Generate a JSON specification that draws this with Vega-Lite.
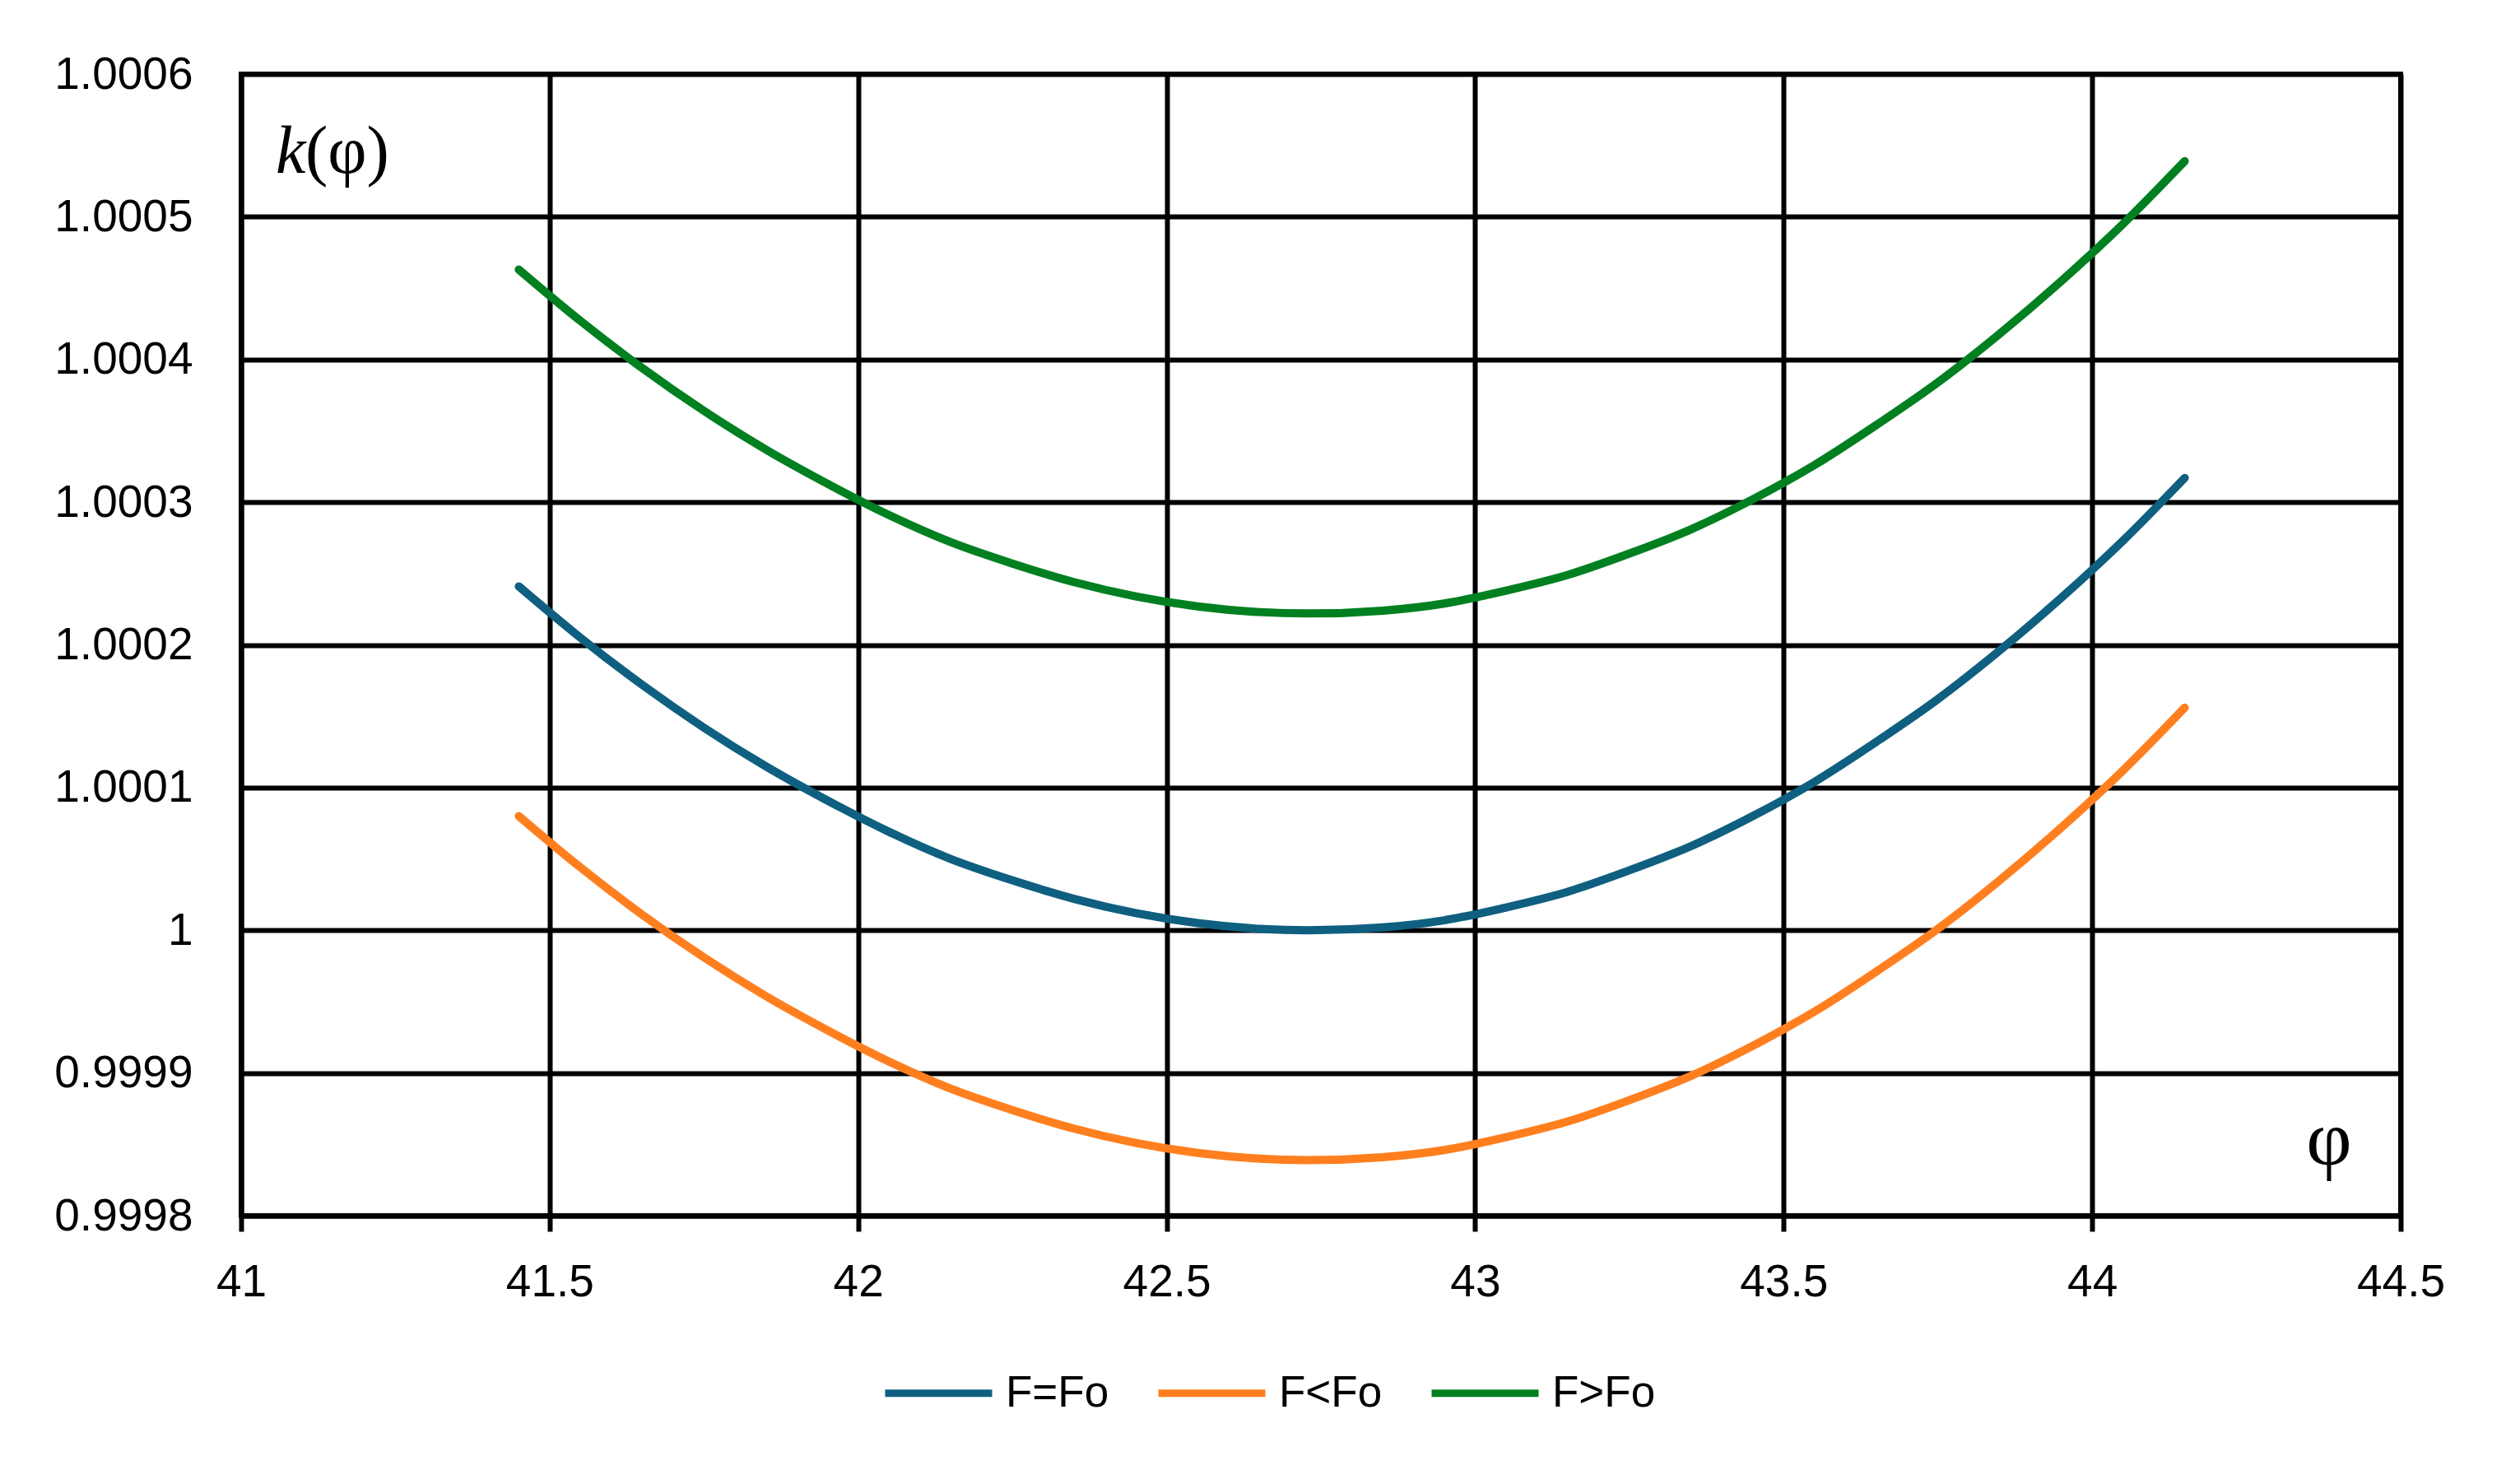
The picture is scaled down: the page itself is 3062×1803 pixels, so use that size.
{
  "$schema": "https://vega.github.io/schema/vega-lite/v6.json",
  "autosize": "none",
  "width": 2624,
  "height": 1387,
  "padding": {"left": 293, "top": 90, "right": 145, "bottom": 326},
  "background": "white",
  "layer": [
    {
      "data": {
        "values": [
          {"phi": 41.45, "k": 1.000241, "series": "F=Fo"},
          {"phi": 41.55, "k": 1.000205, "series": "F=Fo"},
          {"phi": 41.65, "k": 1.000172, "series": "F=Fo"},
          {"phi": 41.75, "k": 1.000142, "series": "F=Fo"},
          {"phi": 41.85, "k": 1.000115, "series": "F=Fo"},
          {"phi": 41.95, "k": 1.000091, "series": "F=Fo"},
          {"phi": 42.05, "k": 1.000069, "series": "F=Fo"},
          {"phi": 42.15, "k": 1.00005, "series": "F=Fo"},
          {"phi": 42.25, "k": 1.000035, "series": "F=Fo"},
          {"phi": 42.35, "k": 1.000022, "series": "F=Fo"},
          {"phi": 42.45, "k": 1.000012, "series": "F=Fo"},
          {"phi": 42.55, "k": 1.000005, "series": "F=Fo"},
          {"phi": 42.65, "k": 1.000001, "series": "F=Fo"},
          {"phi": 42.73, "k": 1.0, "series": "F=Fo"},
          {"phi": 42.85, "k": 1.000002, "series": "F=Fo"},
          {"phi": 42.95, "k": 1.000007, "series": "F=Fo"},
          {"phi": 43.05, "k": 1.000016, "series": "F=Fo"},
          {"phi": 43.15, "k": 1.000027, "series": "F=Fo"},
          {"phi": 43.25, "k": 1.000042, "series": "F=Fo"},
          {"phi": 43.35, "k": 1.000059, "series": "F=Fo"},
          {"phi": 43.45, "k": 1.00008, "series": "F=Fo"},
          {"phi": 43.55, "k": 1.000104, "series": "F=Fo"},
          {"phi": 43.65, "k": 1.000132, "series": "F=Fo"},
          {"phi": 43.75, "k": 1.000162, "series": "F=Fo"},
          {"phi": 43.85, "k": 1.000196, "series": "F=Fo"},
          {"phi": 43.95, "k": 1.000233, "series": "F=Fo"},
          {"phi": 44.05, "k": 1.000273, "series": "F=Fo"},
          {"phi": 44.15, "k": 1.000317, "series": "F=Fo"},
          {"phi": 41.45, "k": 1.00008, "series": "F<Fo"},
          {"phi": 41.55, "k": 1.000044, "series": "F<Fo"},
          {"phi": 41.65, "k": 1.000011, "series": "F<Fo"},
          {"phi": 41.75, "k": 0.999981, "series": "F<Fo"},
          {"phi": 41.85, "k": 0.999954, "series": "F<Fo"},
          {"phi": 41.95, "k": 0.99993, "series": "F<Fo"},
          {"phi": 42.05, "k": 0.999908, "series": "F<Fo"},
          {"phi": 42.15, "k": 0.999889, "series": "F<Fo"},
          {"phi": 42.25, "k": 0.999874, "series": "F<Fo"},
          {"phi": 42.35, "k": 0.999861, "series": "F<Fo"},
          {"phi": 42.45, "k": 0.999851, "series": "F<Fo"},
          {"phi": 42.55, "k": 0.999844, "series": "F<Fo"},
          {"phi": 42.65, "k": 0.99984, "series": "F<Fo"},
          {"phi": 42.73, "k": 0.999839, "series": "F<Fo"},
          {"phi": 42.85, "k": 0.999841, "series": "F<Fo"},
          {"phi": 42.95, "k": 0.999846, "series": "F<Fo"},
          {"phi": 43.05, "k": 0.999855, "series": "F<Fo"},
          {"phi": 43.15, "k": 0.999866, "series": "F<Fo"},
          {"phi": 43.25, "k": 0.999881, "series": "F<Fo"},
          {"phi": 43.35, "k": 0.999898, "series": "F<Fo"},
          {"phi": 43.45, "k": 0.999919, "series": "F<Fo"},
          {"phi": 43.55, "k": 0.999943, "series": "F<Fo"},
          {"phi": 43.65, "k": 0.999971, "series": "F<Fo"},
          {"phi": 43.75, "k": 1.000001, "series": "F<Fo"},
          {"phi": 43.85, "k": 1.000035, "series": "F<Fo"},
          {"phi": 43.95, "k": 1.000072, "series": "F<Fo"},
          {"phi": 44.05, "k": 1.000112, "series": "F<Fo"},
          {"phi": 44.15, "k": 1.000156, "series": "F<Fo"},
          {"phi": 41.45, "k": 1.000463, "series": "F>Fo"},
          {"phi": 41.55, "k": 1.000427, "series": "F>Fo"},
          {"phi": 41.65, "k": 1.000394, "series": "F>Fo"},
          {"phi": 41.75, "k": 1.000364, "series": "F>Fo"},
          {"phi": 41.85, "k": 1.000337, "series": "F>Fo"},
          {"phi": 41.95, "k": 1.000313, "series": "F>Fo"},
          {"phi": 42.05, "k": 1.000291, "series": "F>Fo"},
          {"phi": 42.15, "k": 1.000272, "series": "F>Fo"},
          {"phi": 42.25, "k": 1.000257, "series": "F>Fo"},
          {"phi": 42.35, "k": 1.000244, "series": "F>Fo"},
          {"phi": 42.45, "k": 1.000234, "series": "F>Fo"},
          {"phi": 42.55, "k": 1.000227, "series": "F>Fo"},
          {"phi": 42.65, "k": 1.000223, "series": "F>Fo"},
          {"phi": 42.73, "k": 1.000222, "series": "F>Fo"},
          {"phi": 42.85, "k": 1.000224, "series": "F>Fo"},
          {"phi": 42.95, "k": 1.000229, "series": "F>Fo"},
          {"phi": 43.05, "k": 1.000238, "series": "F>Fo"},
          {"phi": 43.15, "k": 1.000249, "series": "F>Fo"},
          {"phi": 43.25, "k": 1.000264, "series": "F>Fo"},
          {"phi": 43.35, "k": 1.000281, "series": "F>Fo"},
          {"phi": 43.45, "k": 1.000302, "series": "F>Fo"},
          {"phi": 43.55, "k": 1.000326, "series": "F>Fo"},
          {"phi": 43.65, "k": 1.000354, "series": "F>Fo"},
          {"phi": 43.75, "k": 1.000384, "series": "F>Fo"},
          {"phi": 43.85, "k": 1.000418, "series": "F>Fo"},
          {"phi": 43.95, "k": 1.000455, "series": "F>Fo"},
          {"phi": 44.05, "k": 1.000495, "series": "F>Fo"},
          {"phi": 44.15, "k": 1.000539, "series": "F>Fo"}
        ]
      },
      "mark": {"type": "line", "strokeWidth": 10, "interpolate": "monotone", "strokeCap": "round"},
      "encoding": {
        "x": {
          "field": "phi",
          "type": "quantitative",
          "title": null,
          "scale": {"domain": [41, 44.5], "nice": false, "zero": false},
          "axis": {
            "values": [41, 41.5, 42, 42.5, 43, 43.5, 44, 44.5],
            "format": ".1~f",
            "tickSize": 19,
            "tickWidth": 6,
            "tickColor": "black",
            "labelPadding": 35
          }
        },
        "y": {
          "field": "k",
          "type": "quantitative",
          "title": null,
          "scale": {"domain": [0.9998, 1.0006], "nice": false, "zero": false},
          "axis": {
            "values": [0.9998, 0.9999, 1, 1.0001, 1.0002, 1.0003, 1.0004, 1.0005, 1.0006],
            "format": ".4~f",
            "ticks": false,
            "labelPadding": 59
          }
        },
        "color": {
          "field": "series",
          "type": "nominal",
          "sort": null,
          "scale": {
            "domain": ["F=Fo", "F<Fo", "F>Fo"],
            "range": ["#0f5f80", "#ff7f1f", "#008020"]
          },
          "legend": {
            "title": null,
            "orient": "none",
            "legendX": 778,
            "legendY": 1533,
            "direction": "horizontal",
            "symbolType": "stroke",
            "symbolSize": 16900,
            "symbolStrokeWidth": 9,
            "labelFont": "Liberation Sans",
            "labelFontSize": 53,
            "labelColor": "black",
            "labelOffset": 12,
            "columnPadding": 41,
            "padding": 0
          }
        }
      }
    },
    {
      "data": {"values": [{"label": "k"}]},
      "mark": {"type": "text", "font": "Liberation Serif", "fontStyle": "italic", "fontSize": 82, "align": "left", "baseline": "alphabetic", "color": "black"},
      "encoding": {
        "x": {"datum": 41.056, "type": "quantitative"},
        "y": {"datum": 1.000531, "type": "quantitative"},
        "text": {"field": "label"}
      }
    },
    {
      "data": {"values": [{"label": "(φ)"}]},
      "mark": {"type": "text", "font": "Liberation Serif", "fontSize": 82, "align": "left", "baseline": "alphabetic", "color": "black"},
      "encoding": {
        "x": {"datum": 41.104, "type": "quantitative"},
        "y": {"datum": 1.000531, "type": "quantitative"},
        "text": {"field": "label"}
      }
    },
    {
      "data": {"values": [{"label": "φ"}]},
      "mark": {"type": "text", "font": "Liberation Serif", "fontSize": 96, "align": "center", "baseline": "alphabetic", "color": "black"},
      "encoding": {
        "x": {"datum": 44.384, "type": "quantitative"},
        "y": {"datum": 0.999836, "type": "quantitative"},
        "text": {"field": "label"}
      }
    }
  ],
  "config": {
    "view": {"stroke": "black", "strokeWidth": 6},
    "axis": {
      "labelFont": "Liberation Sans",
      "labelFontSize": 55,
      "labelColor": "black",
      "labelFlush": false,
      "labelOverlap": false,
      "domainColor": "black",
      "domainWidth": 6,
      "grid": true,
      "gridColor": "black",
      "gridWidth": 6
    }
  }
}
